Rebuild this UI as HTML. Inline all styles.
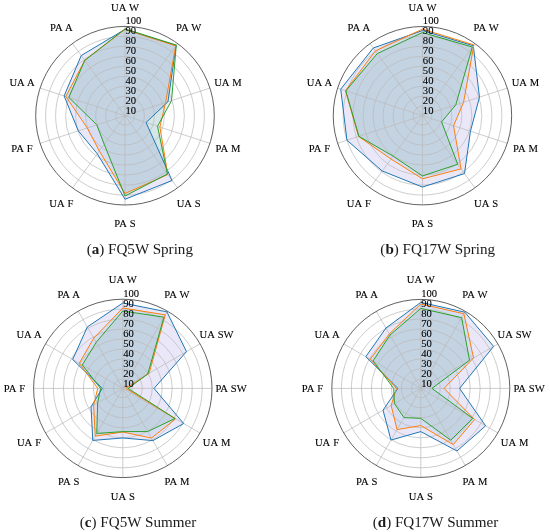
<!DOCTYPE html><html><head><meta charset="utf-8"><title>Radar charts</title><style>html,body{margin:0;padding:0;background:#fff}svg{display:block}</style></head><body><svg width="550" height="532" viewBox="0 0 550 532">
<rect width="550" height="532" fill="#fff"/>
<g>
<polygon points="125.00,29.38 176.03,45.46 167.94,101.75 146.04,122.54 172.07,180.48 125.00,199.25 97.30,153.83 78.29,130.88 64.13,95.92 81.26,55.50" fill="#2d19b9" fill-opacity="0.1" stroke="none"/>
<polygon points="125.00,29.38 175.74,45.86 165.58,102.52 159.92,127.04 167.75,174.54 125.00,193.49 99.34,151.02 87.25,127.96 65.83,96.48 84.76,60.31" fill="#2c84c6" fill-opacity="0.1" stroke="none"/>
<polygon points="125.00,28.88 176.32,45.06 171.52,100.58 157.56,126.28 167.40,174.06 125.00,195.97 104.24,144.28 96.78,124.87 68.85,97.46 84.76,60.31" fill="#23845d" fill-opacity="0.1" stroke="none"/>
<g fill="none" stroke="#bababa" stroke-width="0.72"><circle cx="125.0" cy="115.7" r="9.40"/><circle cx="125.0" cy="115.7" r="19.40"/><circle cx="125.0" cy="115.7" r="29.40"/><circle cx="125.0" cy="115.7" r="39.40"/><circle cx="125.0" cy="115.7" r="49.40"/><circle cx="125.0" cy="115.7" r="59.40"/><circle cx="125.0" cy="115.7" r="69.40"/><circle cx="125.0" cy="115.7" r="79.40"/><line x1="125.0" y1="115.7" x2="125.00" y2="26.40"/><line x1="125.0" y1="115.7" x2="177.49" y2="43.45"/><line x1="125.0" y1="115.7" x2="209.93" y2="88.10"/><line x1="125.0" y1="115.7" x2="209.93" y2="143.30"/><line x1="125.0" y1="115.7" x2="177.49" y2="187.95"/><line x1="125.0" y1="115.7" x2="125.00" y2="205.00"/><line x1="125.0" y1="115.7" x2="72.51" y2="187.95"/><line x1="125.0" y1="115.7" x2="40.07" y2="143.30"/><line x1="125.0" y1="115.7" x2="40.07" y2="88.10"/><line x1="125.0" y1="115.7" x2="72.51" y2="43.45"/></g>
<polygon points="125.00,29.38 176.03,45.46 167.94,101.75 146.04,122.54 172.07,180.48 125.00,199.25 97.30,153.83 78.29,130.88 64.13,95.92 81.26,55.50" fill="none" stroke="#1f77b4" stroke-width="1.0" stroke-linejoin="miter"/>
<polygon points="125.00,29.38 175.74,45.86 165.58,102.52 159.92,127.04 167.75,174.54 125.00,193.49 99.34,151.02 87.25,127.96 65.83,96.48 84.76,60.31" fill="none" stroke="#ff7f0e" stroke-width="1.0" stroke-linejoin="miter"/>
<polygon points="125.00,28.88 176.32,45.06 171.52,100.58 157.56,126.28 167.40,174.06 125.00,195.97 104.24,144.28 96.78,124.87 68.85,97.46 84.76,60.31" fill="none" stroke="#2ca02c" stroke-width="1.0" stroke-linejoin="miter"/>
<circle cx="125.0" cy="115.7" r="89.3" fill="none" stroke="#444" stroke-width="0.85"/>
<g font-family="'Liberation Serif', serif" font-size="10.6" fill="#000" stroke="#000" stroke-width="0.1"><text x="125.40" y="113.90">10</text><text x="125.40" y="103.95">20</text><text x="125.40" y="94.00">30</text><text x="125.40" y="84.05">40</text><text x="125.40" y="74.10">50</text><text x="125.40" y="64.15">60</text><text x="125.40" y="54.20">70</text><text x="125.40" y="44.25">80</text><text x="125.40" y="34.30">90</text><text x="125.40" y="24.35">100</text></g>
<g font-family="'Liberation Serif', serif" font-size="10.6" fill="#000" stroke="#000" stroke-width="0.1" word-spacing="0.8" text-anchor="middle"><text x="125.00" y="10.70">UA W</text><text x="188.66" y="31.38">PA W</text><text x="228.00" y="85.53">UA M</text><text x="228.00" y="152.47">PA M</text><text x="188.66" y="206.62">UA S</text><text x="125.00" y="227.30">PA S</text><text x="61.34" y="206.62">UA F</text><text x="22.00" y="152.47">PA F</text><text x="22.00" y="85.53">UA A</text><text x="61.34" y="31.38">PA A</text></g>
<text transform="translate(139.8,254.2) scale(1.05,1)" x="0" y="0" font-family="'Liberation Serif', serif" font-size="14.4" fill="#1a1a1a" text-anchor="middle">(<tspan font-weight="bold">a</tspan>) FQ5W Spring</text>
</g>
<g>
<polygon points="422.45,30.56 473.31,45.70 479.48,97.17 470.43,131.29 464.51,173.59 422.45,187.06 382.25,171.03 346.95,140.23 340.73,89.15 373.28,48.03" fill="#2d19b9" fill-opacity="0.1" stroke="none"/>
<polygon points="422.45,29.18 473.89,44.90 463.55,102.35 453.56,125.81 461.07,168.86 422.45,178.83 390.99,159.00 358.54,136.47 345.44,90.68 375.38,50.91" fill="#2c84c6" fill-opacity="0.1" stroke="none"/>
<polygon points="422.45,32.55 472.32,47.06 455.82,104.86 441.58,121.92 457.75,164.29 422.45,175.96 393.09,156.11 358.92,136.34 345.82,90.80 377.30,53.56" fill="#23845d" fill-opacity="0.1" stroke="none"/>
<g fill="none" stroke="#bababa" stroke-width="0.72"><circle cx="422.45" cy="115.7" r="9.40"/><circle cx="422.45" cy="115.7" r="19.40"/><circle cx="422.45" cy="115.7" r="29.40"/><circle cx="422.45" cy="115.7" r="39.40"/><circle cx="422.45" cy="115.7" r="49.40"/><circle cx="422.45" cy="115.7" r="59.40"/><circle cx="422.45" cy="115.7" r="69.40"/><circle cx="422.45" cy="115.7" r="79.40"/><line x1="422.45" y1="115.7" x2="422.45" y2="26.50"/><line x1="422.45" y1="115.7" x2="474.88" y2="43.54"/><line x1="422.45" y1="115.7" x2="507.28" y2="88.14"/><line x1="422.45" y1="115.7" x2="507.28" y2="143.26"/><line x1="422.45" y1="115.7" x2="474.88" y2="187.86"/><line x1="422.45" y1="115.7" x2="422.45" y2="204.90"/><line x1="422.45" y1="115.7" x2="370.02" y2="187.86"/><line x1="422.45" y1="115.7" x2="337.62" y2="143.26"/><line x1="422.45" y1="115.7" x2="337.62" y2="88.14"/><line x1="422.45" y1="115.7" x2="370.02" y2="43.54"/></g>
<polygon points="422.45,30.56 473.31,45.70 479.48,97.17 470.43,131.29 464.51,173.59 422.45,187.06 382.25,171.03 346.95,140.23 340.73,89.15 373.28,48.03" fill="none" stroke="#1f77b4" stroke-width="1.0" stroke-linejoin="miter"/>
<polygon points="422.45,29.18 473.89,44.90 463.55,102.35 453.56,125.81 461.07,168.86 422.45,178.83 390.99,159.00 358.54,136.47 345.44,90.68 375.38,50.91" fill="none" stroke="#ff7f0e" stroke-width="1.0" stroke-linejoin="miter"/>
<polygon points="422.45,32.55 472.32,47.06 455.82,104.86 441.58,121.92 457.75,164.29 422.45,175.96 393.09,156.11 358.92,136.34 345.82,90.80 377.30,53.56" fill="none" stroke="#2ca02c" stroke-width="1.0" stroke-linejoin="miter"/>
<circle cx="422.45" cy="115.7" r="89.2" fill="none" stroke="#444" stroke-width="0.85"/>
<g font-family="'Liberation Serif', serif" font-size="10.6" fill="#000" stroke="#000" stroke-width="0.1"><text x="422.85" y="113.90">10</text><text x="422.85" y="103.95">20</text><text x="422.85" y="94.00">30</text><text x="422.85" y="84.05">40</text><text x="422.85" y="74.10">50</text><text x="422.85" y="64.15">60</text><text x="422.85" y="54.20">70</text><text x="422.85" y="44.25">80</text><text x="422.85" y="34.30">90</text><text x="422.85" y="24.35">100</text></g>
<g font-family="'Liberation Serif', serif" font-size="10.6" fill="#000" stroke="#000" stroke-width="0.1" word-spacing="0.8" text-anchor="middle"><text x="422.45" y="10.70">UA W</text><text x="486.11" y="31.38">PA W</text><text x="525.45" y="85.53">UA M</text><text x="525.45" y="152.47">PA M</text><text x="486.11" y="206.62">UA S</text><text x="422.45" y="227.30">PA S</text><text x="358.79" y="206.62">UA F</text><text x="319.45" y="152.47">PA F</text><text x="319.45" y="85.53">UA A</text><text x="358.79" y="31.38">PA A</text></g>
<text transform="translate(437.7,254.2) scale(1.05,1)" x="0" y="0" font-family="'Liberation Serif', serif" font-size="14.4" fill="#1a1a1a" text-anchor="middle">(<tspan font-weight="bold">b</tspan>) FQ17W Spring</text>
</g>
<g>
<polygon points="122.80,302.97 166.95,311.92 186.49,351.63 154.02,388.40 183.66,423.53 152.93,440.59 122.80,437.96 92.77,440.41 91.04,406.74 102.28,388.40 72.67,359.46 87.32,326.94" fill="#2d19b9" fill-opacity="0.1" stroke="none"/>
<polygon points="122.80,308.02 165.27,314.84 149.15,373.19 125.97,388.40 175.59,418.88 151.49,438.10 122.80,432.01 95.25,436.12 93.62,405.25 97.72,388.40 79.28,363.28 93.76,338.10" fill="#2c84c6" fill-opacity="0.1" stroke="none"/>
<polygon points="122.80,310.99 163.93,317.16 147.78,373.98 128.15,388.40 174.90,418.48 147.73,431.57 122.80,431.61 96.78,433.46 97.65,402.92 100.60,388.40 82.29,365.01 96.19,342.31" fill="#23845d" fill-opacity="0.1" stroke="none"/>
<g fill="none" stroke="#bababa" stroke-width="0.72"><circle cx="122.8" cy="388.4" r="9.40"/><circle cx="122.8" cy="388.4" r="19.40"/><circle cx="122.8" cy="388.4" r="29.40"/><circle cx="122.8" cy="388.4" r="39.40"/><circle cx="122.8" cy="388.4" r="49.40"/><circle cx="122.8" cy="388.4" r="59.40"/><circle cx="122.8" cy="388.4" r="69.40"/><circle cx="122.8" cy="388.4" r="79.40"/><line x1="122.8" y1="388.4" x2="122.80" y2="299.20"/><line x1="122.8" y1="388.4" x2="167.40" y2="311.15"/><line x1="122.8" y1="388.4" x2="200.05" y2="343.80"/><line x1="122.8" y1="388.4" x2="212.00" y2="388.40"/><line x1="122.8" y1="388.4" x2="200.05" y2="433.00"/><line x1="122.8" y1="388.4" x2="167.40" y2="465.65"/><line x1="122.8" y1="388.4" x2="122.80" y2="477.60"/><line x1="122.8" y1="388.4" x2="78.20" y2="465.65"/><line x1="122.8" y1="388.4" x2="45.55" y2="433.00"/><line x1="122.8" y1="388.4" x2="33.60" y2="388.40"/><line x1="122.8" y1="388.4" x2="45.55" y2="343.80"/><line x1="122.8" y1="388.4" x2="78.20" y2="311.15"/></g>
<polygon points="122.80,302.97 166.95,311.92 186.49,351.63 154.02,388.40 183.66,423.53 152.93,440.59 122.80,437.96 92.77,440.41 91.04,406.74 102.28,388.40 72.67,359.46 87.32,326.94" fill="none" stroke="#1f77b4" stroke-width="1.0" stroke-linejoin="miter"/>
<polygon points="122.80,308.02 165.27,314.84 149.15,373.19 125.97,388.40 175.59,418.88 151.49,438.10 122.80,432.01 95.25,436.12 93.62,405.25 97.72,388.40 79.28,363.28 93.76,338.10" fill="none" stroke="#ff7f0e" stroke-width="1.0" stroke-linejoin="miter"/>
<polygon points="122.80,310.99 163.93,317.16 147.78,373.98 128.15,388.40 174.90,418.48 147.73,431.57 122.80,431.61 96.78,433.46 97.65,402.92 100.60,388.40 82.29,365.01 96.19,342.31" fill="none" stroke="#2ca02c" stroke-width="1.0" stroke-linejoin="miter"/>
<circle cx="122.8" cy="388.4" r="89.2" fill="none" stroke="#444" stroke-width="0.85"/>
<g font-family="'Liberation Serif', serif" font-size="10.6" fill="#000" stroke="#000" stroke-width="0.1"><text x="123.20" y="386.60">10</text><text x="123.20" y="376.65">20</text><text x="123.20" y="366.70">30</text><text x="123.20" y="356.75">40</text><text x="123.20" y="346.80">50</text><text x="123.20" y="336.85">60</text><text x="123.20" y="326.90">70</text><text x="123.20" y="316.95">80</text><text x="123.20" y="307.00">90</text><text x="123.20" y="297.05">100</text></g>
<g font-family="'Liberation Serif', serif" font-size="10.6" fill="#000" stroke="#000" stroke-width="0.1" word-spacing="0.8" text-anchor="middle"><text x="122.80" y="283.40">UA W</text><text x="176.95" y="297.91">PA W</text><text x="216.59" y="337.55">UA SW</text><text x="231.10" y="391.70">PA SW</text><text x="216.59" y="445.85">UA M</text><text x="176.95" y="485.49">PA M</text><text x="122.80" y="500.00">UA S</text><text x="68.65" y="485.49">PA S</text><text x="29.01" y="445.85">UA F</text><text x="14.50" y="391.70">PA F</text><text x="29.01" y="337.55">UA A</text><text x="68.65" y="297.91">PA A</text></g>
<text transform="translate(138,527) scale(1.05,1)" x="0" y="0" font-family="'Liberation Serif', serif" font-size="14.4" fill="#1a1a1a" text-anchor="middle">(<tspan font-weight="bold">c</tspan>) FQ5W Summer</text>
</g>
<g>
<polygon points="420.80,302.37 464.81,312.18 493.59,346.37 459.56,388.40 485.63,425.83 456.94,451.00 420.80,431.61 390.99,440.04 383.03,410.20 397.86,388.40 365.82,356.66 385.94,328.02" fill="#2d19b9" fill-opacity="0.1" stroke="none"/>
<polygon points="420.80,304.05 463.92,313.72 473.55,357.94 444.04,388.40 474.67,419.50 453.24,444.58 420.80,425.58 397.02,429.59 391.17,405.51 396.47,388.40 370.27,359.23 389.30,333.85" fill="#2c84c6" fill-opacity="0.1" stroke="none"/>
<polygon points="420.80,308.40 461.64,317.66 469.53,360.27 431.97,388.40 472.78,418.41 450.71,440.21 420.80,418.36 403.94,417.60 394.42,403.63 393.70,388.40 373.10,360.86 390.00,335.05" fill="#23845d" fill-opacity="0.1" stroke="none"/>
<g fill="none" stroke="#bababa" stroke-width="0.72"><circle cx="420.8" cy="388.4" r="9.40"/><circle cx="420.8" cy="388.4" r="19.40"/><circle cx="420.8" cy="388.4" r="29.40"/><circle cx="420.8" cy="388.4" r="39.40"/><circle cx="420.8" cy="388.4" r="49.40"/><circle cx="420.8" cy="388.4" r="59.40"/><circle cx="420.8" cy="388.4" r="69.40"/><circle cx="420.8" cy="388.4" r="79.40"/><line x1="420.8" y1="388.4" x2="420.80" y2="299.40"/><line x1="420.8" y1="388.4" x2="465.30" y2="311.32"/><line x1="420.8" y1="388.4" x2="497.88" y2="343.90"/><line x1="420.8" y1="388.4" x2="509.80" y2="388.40"/><line x1="420.8" y1="388.4" x2="497.88" y2="432.90"/><line x1="420.8" y1="388.4" x2="465.30" y2="465.48"/><line x1="420.8" y1="388.4" x2="420.80" y2="477.40"/><line x1="420.8" y1="388.4" x2="376.30" y2="465.48"/><line x1="420.8" y1="388.4" x2="343.72" y2="432.90"/><line x1="420.8" y1="388.4" x2="331.80" y2="388.40"/><line x1="420.8" y1="388.4" x2="343.72" y2="343.90"/><line x1="420.8" y1="388.4" x2="376.30" y2="311.32"/></g>
<polygon points="420.80,302.37 464.81,312.18 493.59,346.37 459.56,388.40 485.63,425.83 456.94,451.00 420.80,431.61 390.99,440.04 383.03,410.20 397.86,388.40 365.82,356.66 385.94,328.02" fill="none" stroke="#1f77b4" stroke-width="1.0" stroke-linejoin="miter"/>
<polygon points="420.80,304.05 463.92,313.72 473.55,357.94 444.04,388.40 474.67,419.50 453.24,444.58 420.80,425.58 397.02,429.59 391.17,405.51 396.47,388.40 370.27,359.23 389.30,333.85" fill="none" stroke="#ff7f0e" stroke-width="1.0" stroke-linejoin="miter"/>
<polygon points="420.80,308.40 461.64,317.66 469.53,360.27 431.97,388.40 472.78,418.41 450.71,440.21 420.80,418.36 403.94,417.60 394.42,403.63 393.70,388.40 373.10,360.86 390.00,335.05" fill="none" stroke="#2ca02c" stroke-width="1.0" stroke-linejoin="miter"/>
<circle cx="420.8" cy="388.4" r="89.0" fill="none" stroke="#444" stroke-width="0.85"/>
<g font-family="'Liberation Serif', serif" font-size="10.6" fill="#000" stroke="#000" stroke-width="0.1"><text x="421.20" y="386.60">10</text><text x="421.20" y="376.65">20</text><text x="421.20" y="366.70">30</text><text x="421.20" y="356.75">40</text><text x="421.20" y="346.80">50</text><text x="421.20" y="336.85">60</text><text x="421.20" y="326.90">70</text><text x="421.20" y="316.95">80</text><text x="421.20" y="307.00">90</text><text x="421.20" y="297.05">100</text></g>
<g font-family="'Liberation Serif', serif" font-size="10.6" fill="#000" stroke="#000" stroke-width="0.1" word-spacing="0.8" text-anchor="middle"><text x="420.80" y="283.40">UA W</text><text x="474.95" y="297.91">PA W</text><text x="514.59" y="337.55">UA SW</text><text x="529.10" y="391.70">PA SW</text><text x="514.59" y="445.85">UA M</text><text x="474.95" y="485.49">PA M</text><text x="420.80" y="500.00">UA S</text><text x="366.65" y="485.49">PA S</text><text x="327.01" y="445.85">UA F</text><text x="312.50" y="391.70">PA F</text><text x="327.01" y="337.55">UA A</text><text x="366.65" y="297.91">PA A</text></g>
<text transform="translate(435.5,527) scale(1.05,1)" x="0" y="0" font-family="'Liberation Serif', serif" font-size="14.4" fill="#1a1a1a" text-anchor="middle">(<tspan font-weight="bold">d</tspan>) FQ17W Summer</text>
</g>
</svg></body></html>
